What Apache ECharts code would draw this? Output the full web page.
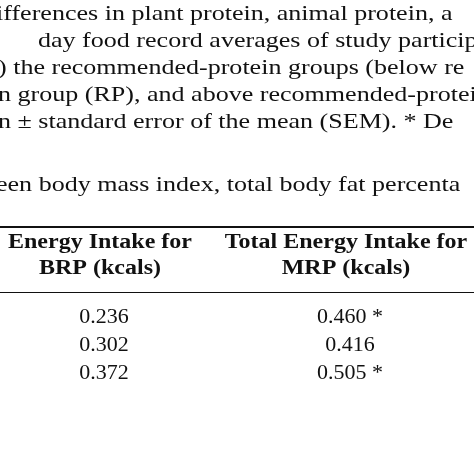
<!DOCTYPE html>
<html><head><meta charset="utf-8">
<script src="https://cdn.jsdelivr.net/npm/echarts@6/dist/echarts.min.js"></script>
<style>html,body{margin:0;padding:0;background:#fff}#c{width:474px;height:474px}</style>
</head><body><div id="c"></div>
<script>
const captionLines = [
  "ifferences in plant protein, animal protein, a",
  "day food record averages of study participa",
  ") the recommended-protein groups (below re",
  "n group (RP), and above recommended-protei",
  "n ± standard error of the mean (SEM). * De"
];
const captionX = [-4, 38, -2, -2, -2];
const tableTitle = "een body mass index, total body fat percenta";
const headerCol1 = ["Energy Intake for", "BRP (kcals)"];
const headerCol2 = ["Total Energy Intake for", "MRP (kcals)"];
const brpValues = ["0.236", "0.302", "0.372"];
const mrpValues = ["0.460 *", "0.416", "0.505 *"];

const font = "'Liberation Serif', 'DejaVu Serif', serif";
const g = [];
const captionY = [14, 41, 68, 95, 122];
captionLines.forEach((t, i) => g.push({type:'text', x: captionX[i], y: captionY[i], scaleX:1.24,
  style:{text:t, font:`21px ${font}`, fill:'#111', verticalAlign:'middle'}}));
g.push({type:'text', x:-4, y:185, scaleX:1.24, style:{text:tableTitle, font:`21px ${font}`, fill:'#111', verticalAlign:'middle'}});
g.push({type:'rect', shape:{x:0,y:226,width:474,height:2}, style:{fill:'#111'}});
g.push({type:'rect', shape:{x:0,y:292,width:474,height:1}, style:{fill:'#111'}});
headerCol1.forEach((t,i)=>g.push({type:'text', x:100, y:243+i*26, scaleX:1.2, style:{text:t, font:`bold 20px ${font}`, fill:'#111', align:'center', verticalAlign:'middle'}}));
headerCol2.forEach((t,i)=>g.push({type:'text', x:346, y:243+i*26, scaleX:1.2, style:{text:t, font:`bold 20px ${font}`, fill:'#111', align:'center', verticalAlign:'middle'}}));
brpValues.forEach((t,i)=>g.push({type:'text', x:104, y:318+i*28, scaleX:1.1, style:{text:t, font:`20px ${font}`, fill:'#111', align:'center', verticalAlign:'middle'}}));
mrpValues.forEach((t,i)=>g.push({type:'text', x:350, y:318+i*28, scaleX:1.1, style:{text:t, font:`20px ${font}`, fill:'#111', align:'center', verticalAlign:'middle'}}));

const chart = echarts.init(document.getElementById('c'));
chart.setOption({backgroundColor:'#fff', graphic:g});
</script></body></html>
